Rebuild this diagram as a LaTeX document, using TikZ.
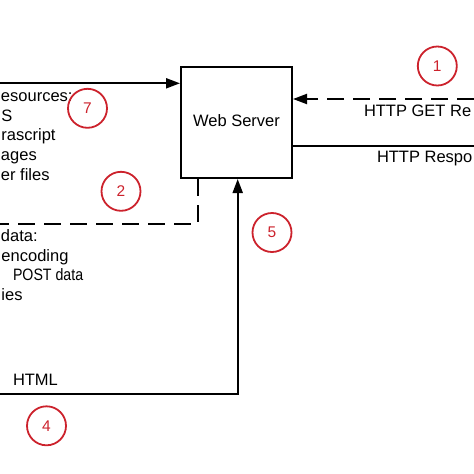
\documentclass[tikz,border=0pt]{standalone}
\usepackage{fontspec}
\setmainfont{Liberation Sans}
\usetikzlibrary{arrows.meta}
\definecolor{numred}{RGB}{204,34,44}
\begin{document}
\begin{tikzpicture}[x=1pt,y=-1pt,line width=2pt,
  lbl/.style={anchor=base west,inner sep=0pt,font=\fontsize{16.5}{19.8}\selectfont},
  num/.style={circle,draw=numred,line width=1.8pt,minimum size=39pt,inner sep=0pt,
    text=numred,font=\fontsize{15.5}{18}\selectfont},
  flow/.style={-{Triangle[length=14pt,width=10pt]}},
  dashline/.style={dash pattern=on 17pt off 9pt}]
\useasboundingbox (0,0) rectangle (474,474);
\clip (0,0) rectangle (474,474);
% server
\node[draw,minimum width=111pt,minimum height=111pt,inner sep=0pt,text depth=4.8pt,
  font=\fontsize{16.5}{19.8}\selectfont] (ws) at (236.5,122.5) {Web Server};
% connectors
\coordinate (tl) at (0,83.3);
\draw[flow] (tl) -- (tl -| ws.west);
\coordinate (dc) at (197.7,224);
\coordinate (de) at (0,224);
\draw[dashline] (dc |- ws.south) -- (dc) -- (de);
\coordinate (hc) at (237.7,394);
\coordinate (he) at (0,394);
\draw[flow] (he) -- (hc) -- (hc |- ws.south);
\coordinate (ge) at (474,99);
\draw[flow,dashline] (ge) -- (ge -| ws.east);
\coordinate (re) at (474,146);
\draw (ws.east |- re) -- (re);
% labels
\node[lbl] (get) at (363,116) {HTTP GET Re};
\node[lbl] (resp) at (376,162.7) {HTTP Respo};
\node[lbl] (r1) at (0,101.2) {esources:};
\node[lbl] (r2) at (0.5,121) {S};
\node[lbl] (r3) at (0.5,140.8) {rascript};
\node[lbl] (r4) at (0,160.6) {ages};
\node[lbl] (r5) at (0,180.4) {er files};
\node[lbl] (p1) at (0,241.5) {data:};
\node[lbl] (p2) at (0.5,261) {encoding};
\node[lbl] (p3) at (12,280.5) {\scalebox{0.86}[1]{POST data}};
\node[lbl] (p4) at (0.5,300) {ies};
\node[lbl] (html) at (12,385) {HTML};
% step numbers
\node[num] (n1) at (437.3,66) {1};
\node[num] (n7) at (87.5,108.3) {7};
\node[num] (n2) at (121,191.3) {2};
\node[num] (n5) at (272,232.5) {5};
\node[num] (n4) at (46.5,425.8) {4};
\end{tikzpicture}
\end{document}
